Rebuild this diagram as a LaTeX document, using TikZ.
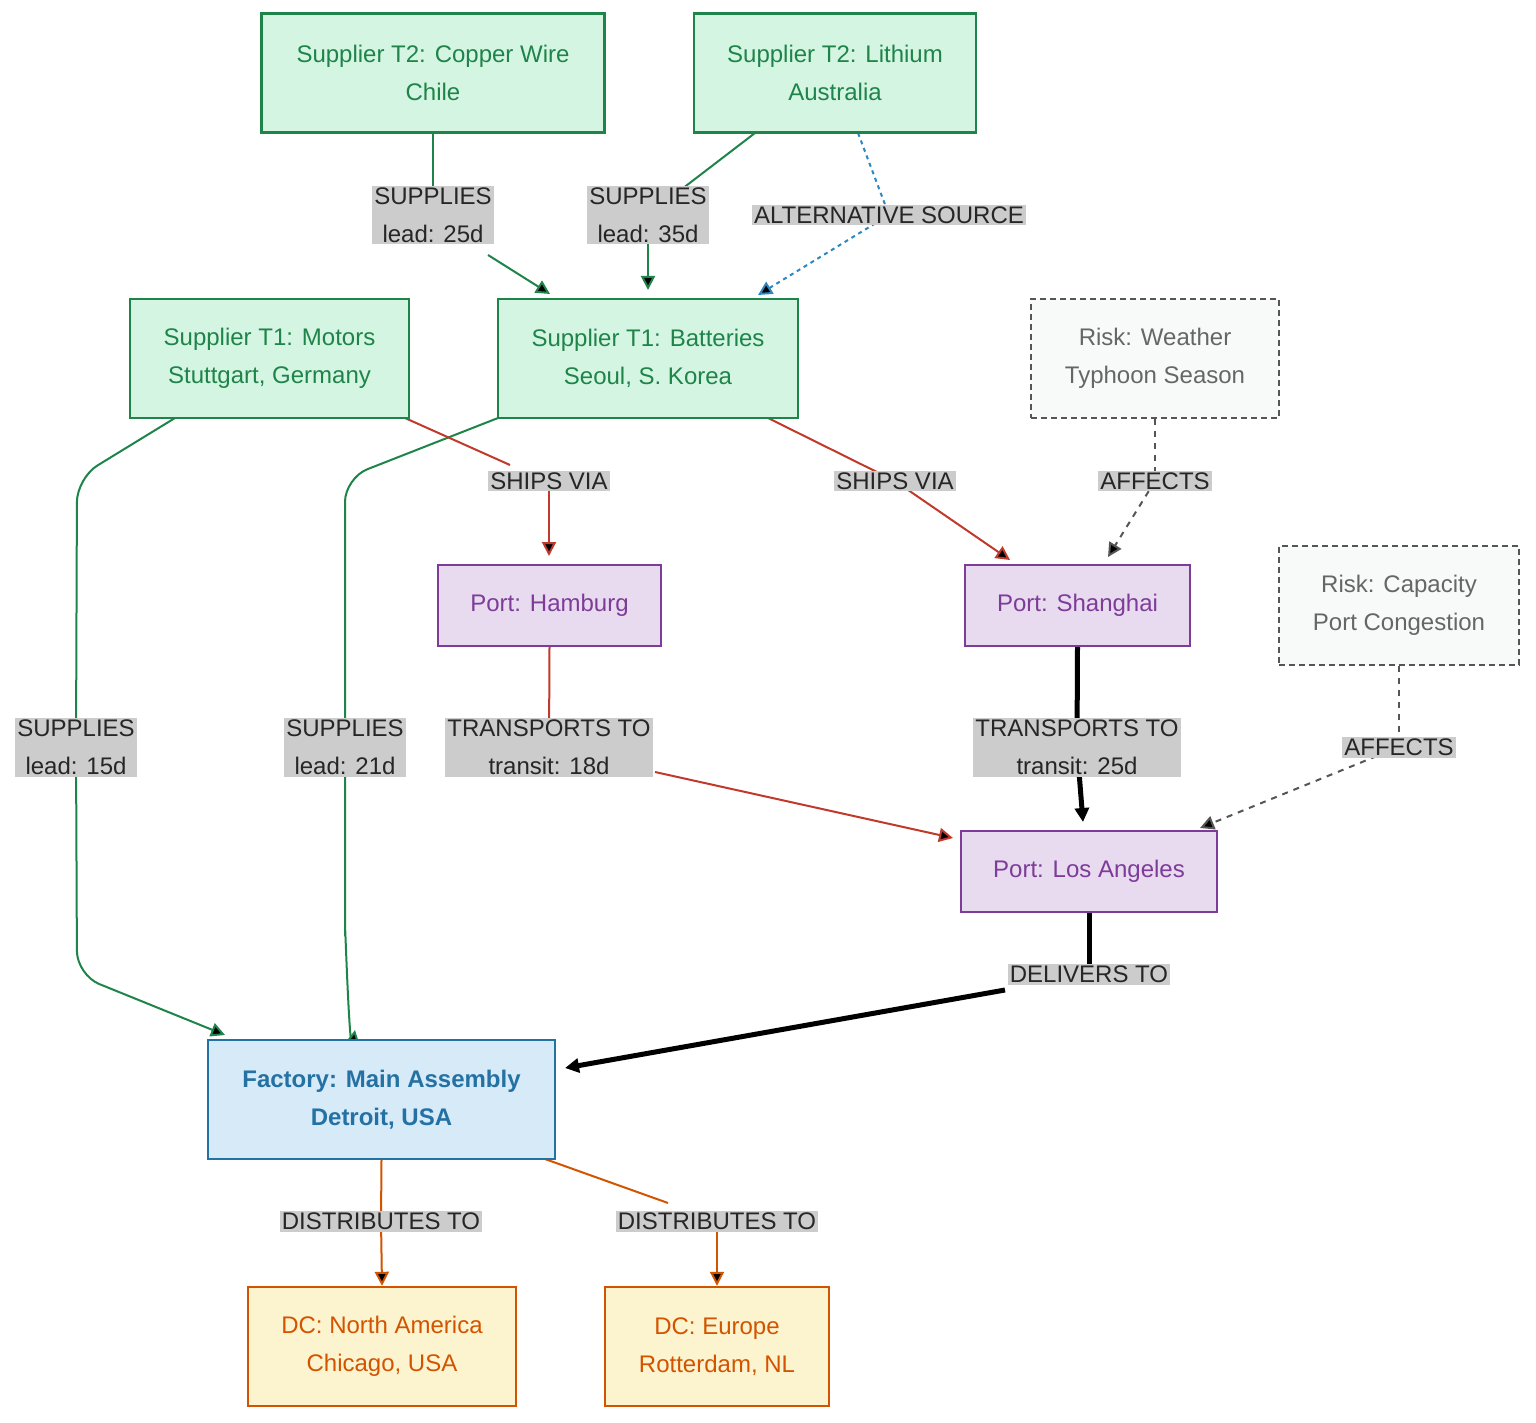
\documentclass[tikz,border=0pt]{standalone}
\usepackage{fontspec}
\setmainfont{Liberation Sans}
\usetikzlibrary{arrows.meta,backgrounds}
\definecolor{gB}{HTML}{1E8449}\definecolor{gF}{HTML}{D5F5E3}
\definecolor{pB}{HTML}{7D3C98}\definecolor{pF}{HTML}{E8DAEF}
\definecolor{bB}{HTML}{2471A3}\definecolor{bF}{HTML}{D6EAF8}
\definecolor{oB}{HTML}{D35400}\definecolor{oF}{HTML}{FCF3CF}
\definecolor{rB}{HTML}{555555}\definecolor{rF}{HTML}{F8F9F9}
\definecolor{lab}{HTML}{CCCCCC}\definecolor{redE}{HTML}{C0392B}
\definecolor{blueE}{HTML}{2E86C1}
\begin{document}
\begin{tikzpicture}[x=0.5pt,y=-0.5pt,
  font=\fontsize{12}{19}\selectfont,
  box/.style={draw, line width=1.2pt, align=center, inner sep=0pt},
  grn/.style={box, draw=gB, fill=gF, text=gB},
  prp/.style={box, draw=pB, fill=pF, text=pB, minimum height=40.5pt},
  blu/.style={box, draw=bB, fill=bF, text=bB, font=\fontsize{12}{19}\selectfont\bfseries},
  org/.style={box, draw=oB, fill=oF, text=oB},
  risk/.style={box, draw=rB, fill=rF, text=rB!90, dashed, dash pattern=on 3pt off 2pt},
  lbl/.style={fill=lab, text=black!85, align=center, inner sep=1pt},
  tip/.style={-{Triangle[length=7pt,width=7pt,fill=black]}},
  ge/.style={draw=gB, line width=1pt},
  re/.style={draw=redE, line width=1pt},
  oe/.style={draw=oB, line width=1pt},
  be/.style={draw=black, line width=2.5pt},
  de/.style={draw=rB, line width=1pt, dashed},
  ble/.style={draw=blueE, line width=1pt, dotted, dash pattern=on 2pt off 2pt}]
\useasboundingbox (0,0) rectangle (1536,1423);
% nodes
\node[grn, minimum width=171.5pt, minimum height=59.5pt] (cu) at (433,73) {Supplier T2: Copper Wire\\Chile};
\node[grn, minimum width=141pt, minimum height=59.5pt] (li) at (835,73) {Supplier T2: Lithium\\Australia};
\node[grn, minimum width=139.5pt, minimum height=59.5pt] (mo) at (269.5,358.5) {Supplier T1: Motors\\Stuttgart, Germany};
\node[grn, minimum width=150pt, minimum height=59.5pt] (ba) at (648,358.5) {Supplier T1: Batteries\\Seoul, S. Korea};
\node[risk, minimum width=124pt, minimum height=59.5pt] (rw) at (1155,358.5) {Risk: Weather\\Typhoon Season};
\node[prp, minimum width=111.5pt] (ha) at (549.5,605.5) {Port: Hamburg};
\node[prp, minimum width=112.5pt] (sh) at (1077.5,605.5) {Port: Shanghai};
\node[risk, minimum width=120pt, minimum height=59.5pt] (rc) at (1399,605.5) {Risk: Capacity\\Port Congestion};
\node[prp, minimum width=128pt] (la) at (1089,871.5) {Port: Los Angeles};
\node[blu, minimum width=173.5pt, minimum height=59.5pt] (fa) at (381.5,1099.5) {Factory: Main Assembly\\Detroit, USA};
\node[org, minimum width=134pt, minimum height=59.5pt] (na) at (382,1346.5) {DC: North America\\Chicago, USA};
\node[org, minimum width=112pt, minimum height=59.5pt] (eu) at (717,1346.5) {DC: Europe\\Rotterdam, NL};
% labels
\node[lbl] (l1) at (433,215) {SUPPLIES\\lead: 25d};
\node[lbl] (l2) at (648,215) {SUPPLIES\\lead: 35d};
\node[lbl] (l3) at (889,215) {ALTERNATIVE SOURCE};
\node[lbl] (l4) at (76,747) {SUPPLIES\\lead: 15d};
\node[lbl] (l5) at (345,747) {SUPPLIES\\lead: 21d};
\node[lbl] (l6) at (549,481) {SHIPS VIA};
\node[lbl] (l7) at (895,481) {SHIPS VIA};
\node[lbl] (l8) at (1155,481) {AFFECTS};
\node[lbl] (l9) at (549,747) {TRANSPORTS TO\\transit: 18d};
\node[lbl] (l10) at (1077,747) {TRANSPORTS TO\\transit: 25d};
\node[lbl] (l11) at (1399,747) {AFFECTS};
\node[lbl] (l12) at (1089,974) {DELIVERS TO};
\node[lbl] (l13) at (381,1221) {DISTRIBUTES TO};
\node[lbl] (l14) at (717,1221) {DISTRIBUTES TO};
\coordinate (f1) at (225,1035);
\coordinate (f2) at (355,1030);
\begin{scope}[on background layer]
\draw[ge] (cu.south) -- (l1.center);
\draw[ge,tip] (488,255) -- (550,294);
\draw[ge] (755,133) -- (l2.center);
\draw[ge,tip] (l2.center) -- (648,290);
\draw[ble] (858,133) -- (l3.center);
\draw[ble,tip] (l3.center) -- (758,295);
\draw[ge,tip,rounded corners=12pt] (175,418) -- (77,478) -- (l4.center) -- (77,975) -- (f1);
\draw[ge,tip,rounded corners=12pt] (498,418) -- (345,478) -- (l5.center) -- (345,950) to[out=90,in=-100] (f2);
\draw[re] (405,418) -- (510,465);
\draw[re,tip] (l6.center) -- (549,556);
\draw[re] (768,418) -- (l7.center);
\draw[re,tip] (l7.center) -- (1010,560);
\draw[de] (rw.south) -- (l8.center);
\draw[de,tip] (l8.center) -- (1108,557);
\draw[re] (ha.south) -- (l9.center);
\draw[re,tip] (655,772) -- (953,838);
\draw[be] (sh.south) -- (l10.center);
\draw[be,tip] (l10.center) -- (1083,822);
\draw[de] (rc.south) -- (l11.center);
\draw[de,tip] (l11.center) -- (1200,828);
\draw[be] (la.south) -- (l12.center);
\draw[be,tip] (1005,990) -- (565,1068);
\draw[oe] (fa.south) -- (l13.center);
\draw[oe,tip] (l13.center) -- (na.north);
\draw[oe] (545,1159) -- (668,1203);
\draw[oe,tip] (l14.center) -- (eu.north);
\end{scope}
\end{tikzpicture}
\end{document}
